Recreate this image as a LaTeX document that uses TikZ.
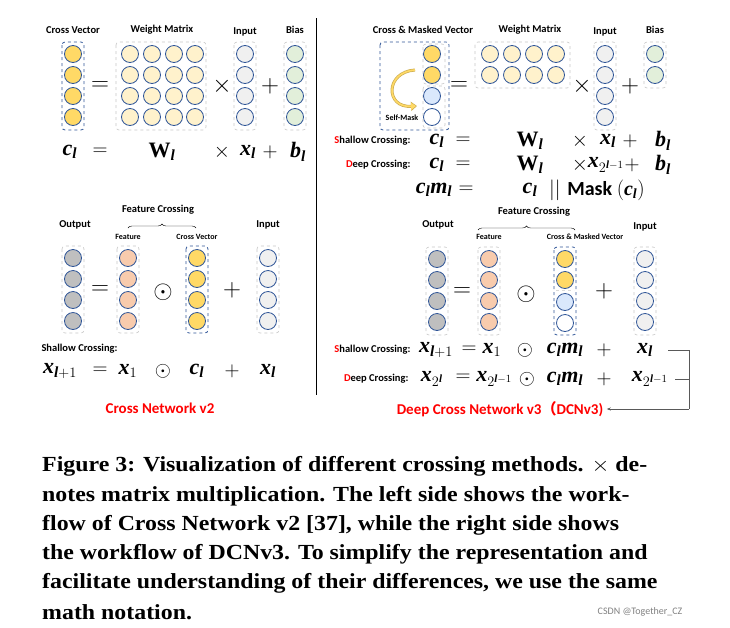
\documentclass[tikz,border=0pt]{standalone}
\usepackage{amsmath,amssymb}
\usepackage{fontspec}
\newfontfamily\lab{Carlito}
\newfontfamily\capf{Liberation Serif}
\newfontfamily\cjk{Noto Sans CJK SC}
\usetikzlibrary{calc,decorations.pathreplacing,arrows.meta}
\definecolor{cyel}{HTML}{FFD966}
\definecolor{cpale}{HTML}{FFF2CC}
\definecolor{cgry}{HTML}{F0F0F0}
\definecolor{cgrn}{HTML}{E2EFDA}
\definecolor{cout}{HTML}{BFBFBF}
\definecolor{cfea}{HTML}{F8CBAD}
\definecolor{cblu}{HTML}{DAE8FC}
\definecolor{cedge}{HTML}{2F5597}
\definecolor{cred}{HTML}{FF0000}
\newcommand\mb[1]{\text{\capf\bfseries\itshape #1}}
\newcommand\mW{\text{\capf\bfseries W}}
\tikzset{
  unit/.style={circle,draw=cedge,line width=0.8pt,minimum size=17pt,inner sep=0pt},
  gbox/.style={draw=gray!45,dashed,rounded corners=3pt,line width=0.6pt},
  bbox/.style={draw=cedge,dashed,rounded corners=3pt,line width=0.8pt},
  lbl/.style={font=\lab\bfseries\fontsize{10.5}{11}\selectfont},
  slbl/.style={font=\lab\bfseries\fontsize{8}{9}\selectfont},
  op/.style={font=\fontsize{25}{25}\selectfont},
  eq/.style={font=\fontsize{22}{22}\selectfont},
  ttl/.style={font=\lab\bfseries\fontsize{15}{16}\selectfont,text=cred},
}
% a column of units: x, first y, count, fill
\newcommand\unitcol[4]{%
  \foreach \k in {1,...,#3} \node[unit,fill=#4] at (#1,{#2+(\k-1)*21}) {};}
\begin{document}
\begin{tikzpicture}[x=1pt,y=-1pt]
\useasboundingbox (0,0) rectangle (730,627);
% ---- left top
\node[lbl] at (73,30) {Cross Vector};
\node[lbl] at (162,30) {Weight Matrix};
\node[lbl] at (245,32) {Input};
\node[lbl] at (295,30) {Bias};
\draw[bbox] (62,42) rectangle (84,130);
\unitcol{73}{54}{4}{cyel}
\draw[gbox] (116,42) rectangle (206,130);
\foreach \c in {130,152,174,195} {\unitcol{\c}{54}{4}{cpale}}
\draw[gbox] (234,42) rectangle (256,130);
\unitcol{245}{54}{4}{cgry}
\draw[gbox] (284,42) rectangle (306,130);
\unitcol{295}{54}{4}{cgrn}
\node[op] at (100,86) {$=$};
\node[op] at (222,86) {$\times$};
\node[op] at (270,86) {$+$};
\node[eq] at (70,152) {$\mb{c}_{\mb{l}}$};
\node[eq] at (100,152) {$=$};
\node[eq] at (162,152) {$\mW_{\mb{l}}$};
\node[eq] at (222,152) {$\times$};
\node[eq] at (248,152) {$\mb{x}_{\mb{l}}$};
\node[eq] at (270,152) {$+$};
\node[eq] at (298,152) {$\mb{b}_{\mb{l}}$};
% ---- left bottom
\node[lbl] at (158,210) {Feature Crossing};
\draw[decorate,decoration={brace,amplitude=4pt}] (128,228) -- (196,228);
\node[lbl] at (75,225) {Output};
\node[lbl] at (268,225) {Input};
\node[slbl] at (128,237) {Feature};
\node[slbl] at (197,237) {Cross Vector};
\draw[gbox] (62,246) rectangle (84,333);
\unitcol{73}{258}{4}{cout}
\draw[gbox] (117,246) rectangle (139,333);
\unitcol{128}{258}{4}{cfea}
\draw[bbox] (186,246) rectangle (208,333);
\unitcol{197}{258}{4}{cyel}
\draw[gbox] (257,246) rectangle (279,333);
\unitcol{268}{258}{4}{cgry}
\node[op] at (100,290) {$=$};
\node[op] at (163,292) {$\odot$};
\node[op] at (232,290) {$+$};
\node[lbl,anchor=west] at (38,349) {Shallow Crossing:};
\node[eq] at (60,371) {$\mb{x}_{\mb{l}+1}$};
\node[eq] at (100,371) {$=$};
\node[eq] at (128,371) {$\mb{x}_{1}$};
\node[eq] at (163,371) {$\odot$};
\node[eq] at (197,371) {$\mb{c}_{\mb{l}}$};
\node[eq] at (232,371) {$+$};
\node[eq] at (268,371) {$\mb{x}_{\mb{l}}$};
\node[ttl] at (160,408) {Cross Network v2};
% ---- divider
\draw[line width=1pt] (316,18) -- (316,395);
% ---- right top
\node[lbl] at (423,30) {Cross \& Masked Vector};
\node[lbl] at (530,30) {Weight Matrix};
\node[lbl] at (605,32) {Input};
\node[lbl] at (655,30) {Bias};
\draw[bbox] (380,42) rectangle (449,130);
\draw[gbox] (423,44) rectangle (445,84);
\draw[gbox] (423,86) rectangle (445,128);
\unitcol{432}{54}{2}{cyel}
\node[unit,fill=cblu] at (432,96) {};
\node[unit,fill=white] at (432,117) {};
\draw[-{Triangle[width=9pt,length=6pt]},line width=3pt,draw=cyel!80!black] (415,70) .. controls (385,72) and (385,108) .. (417,106);
\draw[-{Triangle[width=7pt,length=5pt]},line width=1.6pt,draw=cyel] (415,70) .. controls (385,72) and (385,108) .. (416,106);
\node[slbl] at (402,118) {Self-Mask};
\draw[gbox] (475,42) rectangle (570,88);
\foreach \c in {490,512,534,556} {\unitcol{\c}{54}{2}{cpale}}
\draw[gbox] (594,42) rectangle (616,130);
\unitcol{605}{54}{4}{cgry}
\draw[gbox] (644,42) rectangle (666,88);
\unitcol{655}{54}{2}{cgrn}
\node[op] at (459,86) {$=$};
\node[op] at (582,86) {$\times$};
\node[op] at (630,86) {$+$};
\node[lbl,anchor=east] at (414,141) {\textcolor{cred}{S}hallow Crossing:};
\node[lbl,anchor=east] at (414,165) {\textcolor{cred}{D}eep Crossing:};
\foreach \y in {141,165} {
  \node[eq] at (437,\y) {$\mb{c}_{\mb{l}}$};
  \node[eq] at (463,\y) {$=$};
  \node[eq] at (530,\y) {$\mW_{\mb{l}}$};
  \node[eq] at (580,\y) {$\times$};
  \node[eq] at (663,\y) {$\mb{b}_{\mb{l}}$};
}
\node[eq] at (608,141) {$\mb{x}_{\mb{l}}$};
\node[eq] at (630,141) {$+$};
\node[eq] at (606,165) {$\mb{x}_{2^{\mb{l}-1}}$};
\node[eq] at (632,165) {$+$};
\node[eq] at (434,190) {$\mb{c}_{\mb{l}}\mb{m}_{\mb{l}}$};
\node[eq] at (466,190) {$=$};
\node[eq] at (530,190) {$\mb{c}_{\mb{l}}$};
\node[eq] at (555,190) {$||$};
\node[eq] at (606,190) {\lab\bfseries\fontsize{20}{20}\selectfont Mask $(\mb{c}_{\mb{l}})$};
% ---- right bottom
\node[lbl] at (534,212) {Feature Crossing};
\draw[decorate,decoration={brace,amplitude=4pt}] (478,230) -- (575,230);
\node[lbl] at (438,225) {Output};
\node[lbl] at (645,227) {Input};
\node[slbl] at (489,237) {Feature};
\node[slbl] at (585,237) {Cross \& Masked Vector};
\draw[gbox] (426,247) rectangle (448,335);
\unitcol{437}{259}{4}{cout}
\draw[gbox] (478,247) rectangle (500,335);
\unitcol{489}{259}{4}{cfea}
\draw[bbox] (554,247) rectangle (576,335);
\draw[gbox,draw=gray!30] (556,290) -- (574,290);
\unitcol{565}{259}{2}{cyel}
\node[unit,fill=cblu] at (565,302) {};
\node[unit,fill=white] at (565,323) {};
\draw[gbox] (634,247) rectangle (656,335);
\unitcol{645}{259}{4}{cgry}
\node[op] at (462,292) {$=$};
\node[op] at (526,294) {$\odot$};
\node[op] at (604,291) {$+$};
\node[lbl,anchor=east] at (414,350) {\textcolor{cred}{S}hallow Crossing:};
\node[lbl,anchor=east] at (412,379) {\textcolor{cred}{D}eep Crossing:};
\node[eq] at (436,350) {$\mb{x}_{\mb{l}+1}$};
\node[eq] at (469,350) {$=$};
\node[eq] at (492,350) {$\mb{x}_{1}$};
\node[eq] at (525,350) {$\odot$};
\node[eq] at (565,350) {$\mb{c}_{\mb{l}}\mb{m}_{\mb{l}}$};
\node[eq] at (604,350) {$+$};
\node (xs) [eq] at (645,350) {$\mb{x}_{\mb{l}}$};
\node[eq] at (432,379) {$\mb{x}_{2^{\mb{l}}}$};
\node[eq] at (484,379) {$=\mb{x}_{2^{\mb{l}-1}}$};
\node[eq] at (527,379) {$\odot$};
\node[eq] at (565,379) {$\mb{c}_{\mb{l}}\mb{m}_{\mb{l}}$};
\node[eq] at (604,379) {$+$};
\node (xd) [eq] at (650,379) {$\mb{x}_{2^{\mb{l}-1}}$};
\node (dcn) [ttl] at (500,409) {Deep Cross Network v3{\cjk （}DCNv3)};
\coordinate (jt) at (689,350);
\coordinate (jb) at (689,409);
\draw[gray!70!black,line width=0.8pt] (668,350) -- (jt) -- (jb);
\draw[gray!70!black,line width=0.8pt] (675,379) -- (689,379);
\draw[-{Stealth[length=4pt]},gray!70!black,line width=0.8pt] (jb) -- (dcn.east);
% ---- caption
\begin{scope}[every node/.style={anchor=west,font=\capf\bfseries\fontsize{21.5}{24}\selectfont,inner sep=0pt}]
\node at (42,466) {\scalebox{1.11}[1]{Figure 3: Visualization of different crossing methods. $\times$ de-}};
\node at (42,496) {\scalebox{1.11}[1]{notes matrix multiplication. The left side shows the work-}};
\node at (42,525) {\scalebox{1.11}[1]{flow of Cross Network v2 [37], while the right side shows}};
\node at (42,554) {\scalebox{1.11}[1]{the workflow of DCNv3. To simplify the representation and}};
\node at (42,583) {\scalebox{1.11}[1]{facilitate understanding of their differences, we use the same}};
\node at (42,612) {\scalebox{1.11}[1]{math notation.}};
\end{scope}
\node[font=\lab\fontsize{10}{11}\selectfont,text=gray] at (640,612) {CSDN @Together\_CZ};
\end{tikzpicture}
\end{document}
